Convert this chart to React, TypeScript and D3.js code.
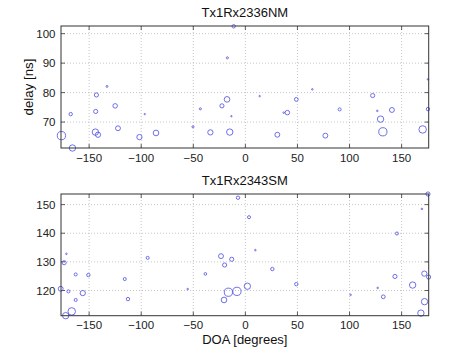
import React from "react";
import * as d3 from "d3";

// ---- data ----
const topTitle = "Tx1Rx2336NM";
const bottomTitle = "Tx1Rx2343SM";
const xLabel = "DOA [degrees]";
const yLabel = "delay [ns]";

const xTicks = [-150, -100, -50, 0, 50, 100, 150];
const topYTicks = [70, 80, 90, 100];
const bottomYTicks = [120, 130, 140, 150];
const xDomain = [-177, 176];
const topYDomain = [61.2, 102.6];
const bottomYDomain = [111.2, 153.7];

// DOA (deg), delay (ns), relative power (0..1)
const topDoa = [-176.6, -166, -167.7, -132.8, -143, -143.7, -144, -141.5, -125, -122.3, -96.6, -101.7, -85.8, -50.3, -43.2, -33.6, -22.5, -17.6, -15, -17.3, -11.2, -13.4, 13.7, 48.9, 64.3, 36.8, 40.3, 30.7, 76.8, 90.5, 122.2, 126.7, 129.8, 132, 140.7, 170.2, 175.3, 175.3];
const topDelay = [65.4, 61.2, 72.7, 82.1, 79.2, 73.6, 66.6, 65.7, 75.5, 67.9, 72.7, 64.9, 66.3, 68.4, 74.5, 66.5, 75.5, 77.7, 66.6, 91.8, 102.5, 72, 78.8, 77.7, 81.1, 73.2, 73.2, 65.7, 65.4, 74.3, 79, 73.8, 71, 66.7, 74.1, 67.5, 74.4, 84.5];
const topPower = [0.95, 0.7, 0.3, 0.1, 0.4, 0.4, 0.7, 0.55, 0.45, 0.5, 0.02, 0.55, 0.6, 0.12, 0.12, 0.55, 0.4, 0.6, 0.7, 0.12, 0.3, 0.03, 0.03, 0.35, 0.05, 0.05, 0.45, 0.5, 0.5, 0.25, 0.4, 0.05, 0.7, 0.95, 0.5, 0.85, 0.3, 0.05];

const bottomDoa = [-177.3, -172.5, -166.7, -174, -171.8, -169.9, -162.9, -162.9, -156.1, -150.7, -115.8, -112.7, -93.8, -55.4, -38.4, -23.4, -19.9, -13.1, -20.5, -16.3, -8.1, 1.9, -7.1, 3.5, 9.6, 25.9, 48.9, 101, 127, 132.4, 143.6, 145.5, 160.6, 169.5, 175.3, 171.8, 175.9, 172, 168.5];
const bottomDelay = [120.6, 111.2, 112.7, 129.7, 132.8, 119.7, 125.6, 116.7, 119.1, 125.4, 124, 117, 131.4, 120.5, 125.8, 132, 128.9, 130.9, 116.7, 119.4, 119.7, 121.5, 152.4, 145.6, 134.1, 127.5, 122.2, 118.5, 120.9, 117.8, 124.9, 139.9, 121.9, 148.5, 153.7, 125.9, 124.7, 116.1, 112.1];
const bottomPower = [0.5, 0.7, 0.85, 0.4, 0.05, 0.25, 0.25, 0.25, 0.55, 0.3, 0.25, 0.3, 0.25, 0.05, 0.2, 0.5, 0.4, 0.4, 0.6, 0.95, 0.95, 0.7, 0.3, 0.25, 0.05, 0.3, 0.3, 0.05, 0.05, 0.35, 0.4, 0.25, 0.7, 0.05, 0.4, 0.55, 0.4, 0.7, 0.7];

const W = 474;
const H = 355;
const plotLeft = 61;
const plotRight = 428.7;
const topPanel = { y0: 26, y1: 148 };
const bottomPanel = { y0: 194, y1: 315.7 };
const markerColor = "#5656e4";
const font = "'Liberation Sans', Arial, Helvetica, sans-serif";

const rScale = d3.scaleLinear().domain([0, 1]).range([0.6, 4.3]);

function Panel(props: {
  title: string;
  y0: number;
  y1: number;
  yDomain: number[];
  yTicks: number[];
  doa: number[];
  delay: number[];
  power: number[];
}) {
  const { title, y0, y1, yDomain, yTicks, doa, delay, power } = props;
  const x = d3.scaleLinear().domain(xDomain).range([plotLeft, plotRight]);
  const y = d3.scaleLinear().domain(yDomain).range([y1, y0]);
  const tl = 4;
  const clipId = "clip" + title;
  return (
    <g>
      <defs>
        <clipPath id={clipId}>
          <rect x={plotLeft - 5} y={y0 - 5} width={plotRight - plotLeft + 10} height={y1 - y0 + 10} />
        </clipPath>
      </defs>
      <rect x={plotLeft} y={y0} width={plotRight - plotLeft} height={y1 - y0} fill="#fff" />
      {xTicks.map((t) => (
        <line key={"gx" + t} x1={x(t)} x2={x(t)} y1={y0} y2={y1} stroke="#b8b8b8" strokeWidth={0.8} strokeDasharray="1,2" />
      ))}
      {yTicks.map((t) => (
        <line key={"gy" + t} x1={plotLeft} x2={plotRight} y1={y(t)} y2={y(t)} stroke="#b8b8b8" strokeWidth={0.8} strokeDasharray="1,2" />
      ))}
      {xTicks.map((t) => (
        <g key={"tx" + t}>
          <line x1={x(t)} x2={x(t)} y1={y1} y2={y1 - tl} stroke="#333" strokeWidth={0.8} />
          <line x1={x(t)} x2={x(t)} y1={y0} y2={y0 + tl} stroke="#333" strokeWidth={0.8} />
          <text x={x(t)} y={y1 + 13.5} textAnchor="middle" fontSize={11.5} fontFamily={font} fill="#222">
            {t < 0 ? "\u2212" + Math.abs(t) : String(t)}
          </text>
        </g>
      ))}
      {yTicks.map((t) => (
        <g key={"ty" + t}>
          <line x1={plotLeft} x2={plotLeft + tl} y1={y(t)} y2={y(t)} stroke="#333" strokeWidth={0.8} />
          <line x1={plotRight} x2={plotRight - tl} y1={y(t)} y2={y(t)} stroke="#333" strokeWidth={0.8} />
          <text x={plotLeft - 5.5} y={y(t) + 4} textAnchor="end" fontSize={11.5} fontFamily={font} fill="#222">
            {t}
          </text>
        </g>
      ))}
      <g clipPath={`url(#${clipId})`}>
        {doa.map((d, i) => (
          <circle key={i} cx={x(d)} cy={y(delay[i])} r={rScale(power[i])} fill="none" stroke={markerColor} strokeWidth={0.85} />
        ))}
      </g>
      <rect x={plotLeft} y={y0} width={plotRight - plotLeft} height={y1 - y0} fill="none" stroke="#333" strokeWidth={1} />
      <text x={(plotLeft + plotRight) / 2} y={y0 - 9.5} textAnchor="middle" fontSize={13} fontFamily={font} fill="#111">
        {title}
      </text>
    </g>
  );
}

export default function App() {
  return (
    <svg width={W} height={H} style={{ position: "absolute", left: 0, top: 0, background: "#fff" }}>
      <rect width={W} height={H} fill="#fff" />
      <Panel title={topTitle} y0={topPanel.y0} y1={topPanel.y1} yDomain={topYDomain} yTicks={topYTicks} doa={topDoa} delay={topDelay} power={topPower} />
      <Panel title={bottomTitle} y0={bottomPanel.y0} y1={bottomPanel.y1} yDomain={bottomYDomain} yTicks={bottomYTicks} doa={bottomDoa} delay={bottomDelay} power={bottomPower} />
      <text x={(plotLeft + plotRight) / 2} y={344} textAnchor="middle" fontSize={13} fontFamily={font} fill="#111">
        {xLabel}
      </text>
      <text transform={`translate(33, ${(topPanel.y0 + topPanel.y1) / 2}) rotate(-90)`} textAnchor="middle" fontSize={13.3} fontFamily={font} fill="#111">
        {yLabel}
      </text>
    </svg>
  );
}
